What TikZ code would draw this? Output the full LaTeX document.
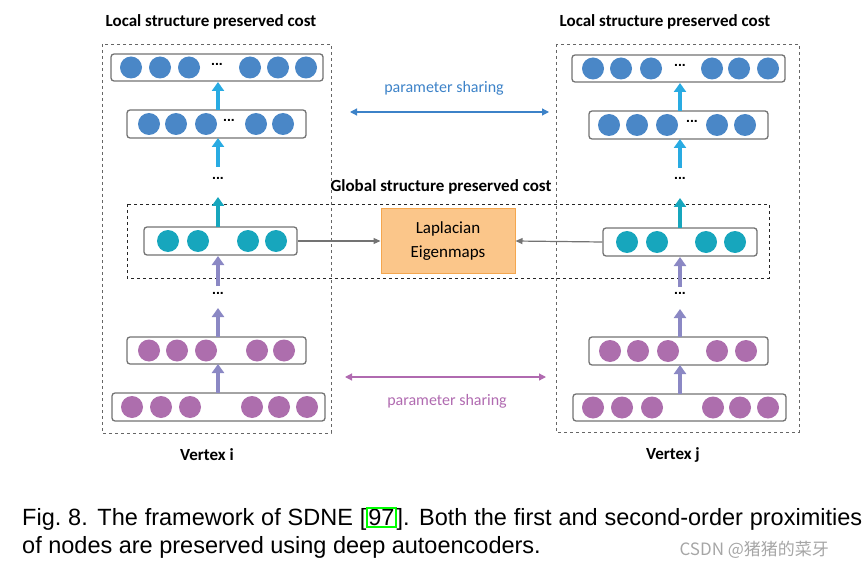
\documentclass[tikz,border=0pt]{standalone}
\usepackage{fontspec}
\setmainfont{Liberation Sans}
\newfontfamily\carl{Carlito}
\newfontfamily\cjkf{Noto Sans CJK SC}
\usetikzlibrary{arrows.meta}
\definecolor{dblue}{HTML}{4A87C7}
\definecolor{lblue}{HTML}{29ABE2}
\definecolor{teal1}{HTML}{17A6BD}
\definecolor{purp}{HTML}{AD6EAD}
\definecolor{parr}{HTML}{8B88C4}
\definecolor{shblue}{HTML}{3C82C8}
\definecolor{shpurp}{HTML}{B06AB0}
\definecolor{lapfill}{HTML}{FBC68A}
\definecolor{lapdraw}{HTML}{F4A64E}
\begin{document}
\begin{tikzpicture}[x=1pt,y=-1pt,
  row/.style={draw=black!55,line width=1.3pt,rounded corners=3pt,fill=white},
  dot/.style={circle,inner sep=0pt,minimum size=22pt},
  up/.style={line width=3.5pt,-{Triangle[length=9pt,width=12pt]}},
  dbox/.style={draw=black!60,dashed,line width=0.9pt},
  title/.style={font=\carl\bfseries\fontsize{17}{20}\selectfont},
  ell/.style={font=\bfseries\fontsize{14}{14}\selectfont},
  share/.style={{Triangle[length=7pt,width=7pt]}-{Triangle[length=7pt,width=7pt]},line width=1.2pt}]
\useasboundingbox (0,0) rectangle (867,572);
% dashed boxes
\draw[dbox] (102,44) rectangle (331,433);
\draw[dbox] (556,44) rectangle (799,432);
\draw[dbox,draw=black!85] (127,204) rectangle (769,278);
% titles
\node[title] (tl) at (211,22) {Local structure preserved cost};
\node[title] (tr) at (665,22) {Local structure preserved cost};
\node[title] (tg) at (441,187) {Global structure preserved cost};
\newcommand{\lrow}[7]{%
  \node[row,minimum width={#3-#2},minimum height={#5-#4},inner sep=0pt] (#1) at ({(#2+#3)/2},{(#4+#5)/2}) {};
  \foreach \cx [count=\k] in {#7} \node[dot,fill=#6] (#1c\k) at (\cx,{(#4+#5)/2}) {};}
% left
\lrow{L1}{111}{323}{54}{81}{dblue}{131,160,189,250,278,306}
\lrow{L2}{127}{306}{110}{138}{dblue}{149,176,206,256,283}
\lrow{L3}{144}{297}{227}{255}{teal1}{168,198,248,276}
\lrow{L4}{127}{306}{337}{364}{purp}{149,177,206,257,284}
\lrow{L5}{112}{325}{393}{421}{purp}{132,161,190,252,279,307}
\node[ell] (Ld1) at (217,64) {...};
\node[ell] (Ld2) at (229,120) {...};
\node[ell] (Ld3) at (218,178) {...};
\node[ell] (Ld4) at (218,293) {...};
% right
\lrow{R1}{572}{785}{55}{82}{dblue}{593,621,651,712,739,768}
\lrow{R2}{589}{768}{111}{139}{dblue}{609,637,667,717,745}
\lrow{R3}{603}{757}{228}{256}{teal1}{627,657,706,735}
\lrow{R4}{589}{768}{337}{365}{purp}{610,638,668,717,746}
\lrow{R5}{573}{786}{394}{421}{purp}{593,622,652,713,740,768}
\node[ell] (Rd1) at (680,65) {...};
\node[ell] (Rd2) at (692,121) {...};
\node[ell] (Rd3) at (680,178) {...};
\node[ell] (Rd4) at (680,293) {...};
% arrows left
\draw[up,lblue] (218,110) -- (218,82);
\draw[up,lblue] (218,167) -- (218,138);
\draw[up,teal1] (218,227) -- (218,197);
\draw[up,parr] (218,286) -- (218,256);
\draw[up,parr] (218,337) -- (218,308);
\draw[up,parr] (218,393) -- (218,364);
% arrows right
\draw[up,lblue] (680,111) -- (680,83);
\draw[up,lblue] (680,168) -- (680,139);
\draw[up,teal1] (680,228) -- (680,198);
\draw[up,parr] (680,287) -- (680,257);
\draw[up,parr] (680,337) -- (680,309);
\draw[up,parr] (680,394) -- (680,365);
% Laplacian
\node[draw=lapdraw,fill=lapfill,line width=1pt,minimum width=134pt,minimum height=64pt,
  align=center,font=\carl\fontsize{17}{24}\selectfont] (lap) at (448,241) {Laplacian\\Eigenmaps};
\draw[black!55,line width=1.2pt,-{Triangle[length=7pt,width=6pt]}] (L3.east) -- (lap.west);
\draw[black!55,line width=1.2pt,-{Triangle[length=7pt,width=6pt]}] (R3.west) -- (lap.east);
% parameter sharing
\coordinate (sb1) at (350,112); \coordinate (sb2) at (549,112);
\draw[share,shblue] (sb1) -- (sb2);
\node[font=\carl\fontsize{16}{18}\selectfont,text=shblue] (ps1) at (444,88) {parameter sharing};
\coordinate (sp1) at (345,377); \coordinate (sp2) at (546,377);
\draw[share,shpurp] (sp1) -- (sp2);
\node[font=\carl\fontsize{16}{18}\selectfont,text=shpurp] (ps2) at (447,401) {parameter sharing};
% vertex labels
\node[title] (vi) at (207,455) {Vertex i};
\node[title] (vj) at (673,455) {Vertex j};
% caption
\node[anchor=north west,text width=840pt,align=justify,inner sep=0pt,
  font=\fontsize{23.5}{27.5}\selectfont] (cap) at (22,507)
  {Fig.\ 8. The framework of SDNE [{\setlength\fboxsep{0pt}\setlength\fboxrule{2pt}\fcolorbox{green}{white}{97}}]. Both the first and second-order proximities of nodes are preserved using deep autoencoders.};
\node[anchor=west,text=black!35,font=\cjkf\fontsize{17}{17}\selectfont] (wm) at (676,550) {CSDN @猪猪的菜牙};
\end{tikzpicture}
\end{document}
